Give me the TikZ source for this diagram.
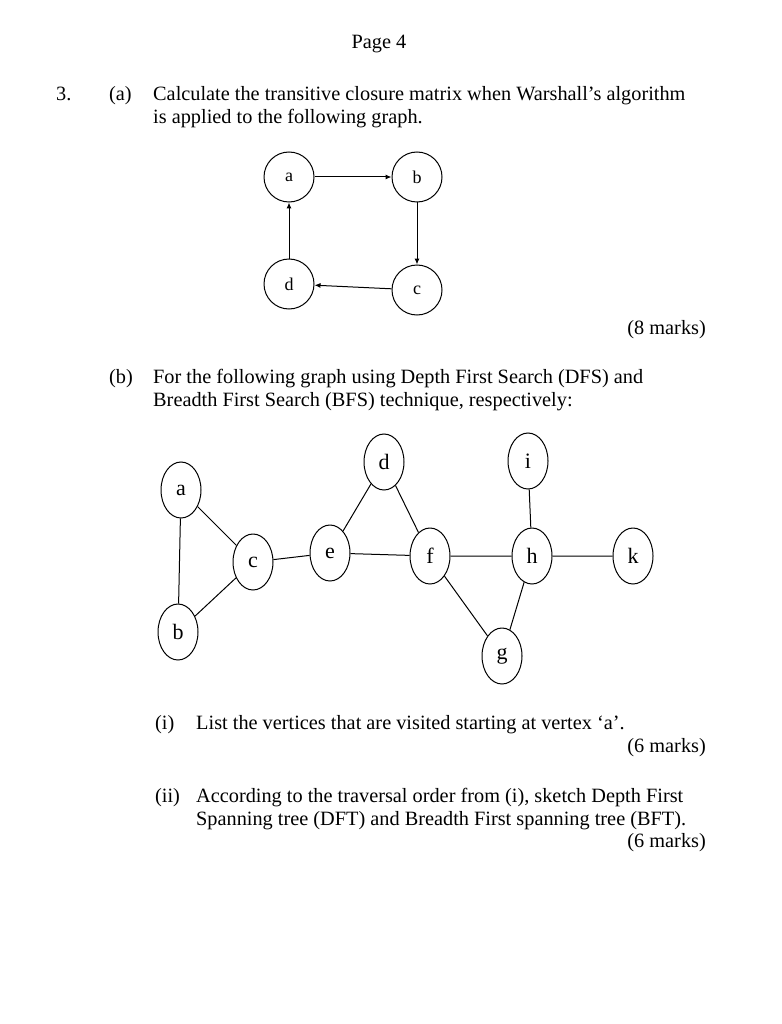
\documentclass[tikz,border=0pt]{standalone}
\usepackage{fontspec}
\setmainfont{Liberation Serif}
\usetikzlibrary{shapes.geometric,arrows.meta}
\begin{document}
\begin{tikzpicture}[x=1pt,y=-1pt,
  txt/.style={anchor=base west,inner sep=0,font=\fontsize{20.3}{22}\selectfont},
  rtxt/.style={anchor=base east,inner sep=0,font=\fontsize{20.3}{22}\selectfont},
  cnode/.style={circle,draw,line width=1pt,minimum size=50pt,inner sep=0,font=\fontsize{18}{20}\selectfont},
  enode/.style={ellipse,draw,line width=1pt,minimum width=40pt,minimum height=56pt,inner sep=0,font=\fontsize{22}{24}\selectfont},
  arr/.style={line width=1pt,-{Latex[length=6pt,width=5pt]}},
  edge/.style={line width=1pt}]
\useasboundingbox (0,0) rectangle (781,1024);
\node[anchor=base,inner sep=0,font=\fontsize{20.3}{22}\selectfont] (pg) at (379,49) {Page 4};
\node[txt] (n3) at (56,101) {3.};
\node[txt] (pa) at (109,101) {(a)};
\node[txt] (ta1) at (153,101) {Calculate the transitive closure matrix when Warshall’s algorithm};
\node[txt] (ta2) at (153,124) {is applied to the following graph.};
\node[cnode] (a) at (289,177) {a};
\node[cnode] (b) at (417,177) {b};
\node[cnode] (c) at (417,290) {c};
\node[cnode] (d) at (289,284) {d};
\draw[arr] (a) -- (b);
\draw[arr] (b) -- (c);
\draw[arr] (c) -- (d);
\draw[arr] (d) -- (a);
\node[rtxt] (m1) at (706,334) {(8 marks)};
\node[txt] (pb) at (109,383) {(b)};
\node[txt] (tb1) at (153,383) {For the following graph using Depth First Search (DFS) and};
\node[txt] (tb2) at (153,406) {Breadth First Search (BFS) technique, respectively:};
\node[enode] (A) at (181,490) {a};
\node[enode] (B) at (178,632) {b};
\node[enode] (C) at (253,562) {c};
\node[enode] (D) at (384,462) {d};
\node[enode] (E) at (330,553) {e};
\node[enode] (F) at (430,556) {f};
\node[enode] (G) at (502,656) {g};
\node[enode] (H) at (532,556) {h};
\node[enode] (I) at (528,461) {i};
\node[enode] (K) at (633,556) {k};
\draw[edge] (A)--(B) (A)--(C) (B)--(C) (C)--(E) (E)--(D) (D)--(F) (E)--(F) (F)--(H) (H)--(I) (H)--(K) (F)--(G) (G)--(H);
\node[txt] (pi) at (155,729) {(i)};
\node[txt] (ti) at (196,729) {List the vertices that are visited starting at vertex ‘a’.};
\node[rtxt] (m2) at (706,752) {(6 marks)};
\node[txt] (pii) at (155,802) {(ii)};
\node[txt] (tii1) at (196,802) {According to the traversal order from (i), sketch Depth First};
\node[txt] (tii2) at (196,825) {Spanning tree (DFT) and Breadth First spanning tree (BFT).};
\node[rtxt] (m3) at (706,847) {(6 marks)};
\end{tikzpicture}
\end{document}
